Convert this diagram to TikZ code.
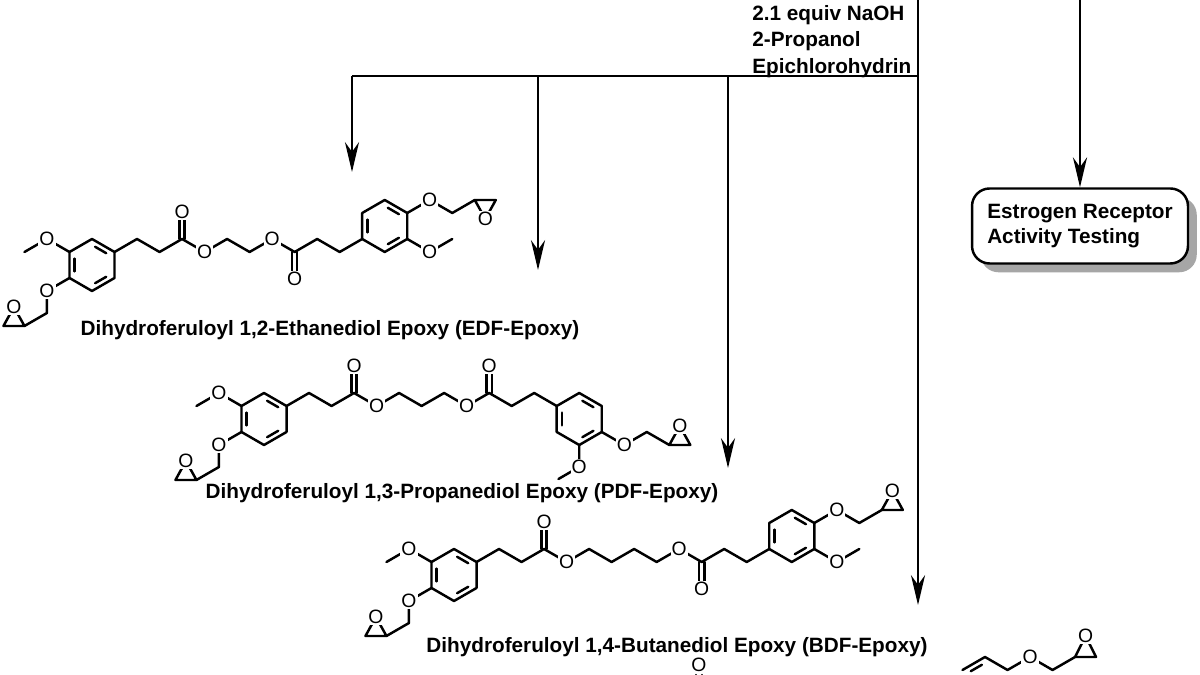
\documentclass[tikz,border=0pt]{standalone}
\usepackage{fontspec}
\setmainfont{Liberation Sans}
\usetikzlibrary{arrows.meta,calc,shadows}
\tikzset{
  bond/.style={line width=1.4pt,line cap=round,line join=round},
  atom/.style={fill=white,inner sep=0.6pt,font=\fontsize{11}{12}\selectfont},
  lbl/.style={font=\bfseries\fontsize{11.8}{14}\selectfont,inner sep=0pt},
  flow/.style={line width=1.3pt},
  arr/.style={line width=1.3pt,-{Stealth[length=17pt,width=8pt]}},
}
\newcommand\benz[1]{%
  \draw[bond,shift={(#1)}] (30:26)--(90:26)--(150:26)--(210:26)--(270:26)--(330:26)--cycle;
  \foreach \a in {30,150,270}{\draw[bond,shift={(#1)}] ($(\a:20)!0.18!(\a+60:20)$) -- ($(\a+60:20)!0.18!(\a:20)$);}}
\newcommand\dbl[2]{%
  \draw[bond] ($(#1)+(-2.6,0)$) -- ++(#2:24);
  \draw[bond] ($(#1)+(2.6,0)$) -- ++(#2:24);
  \node[atom] at ($(#1)+(#2:27)$) {O};}
\newcommand\epox[3]{%
  \draw[bond] (#1) -- ++(#2,0) -- ($(#1)+(0.5*#2,#3)$) -- cycle;
  \node[atom] at ($(#1)+(0.5*#2,#3)$) {O};}
\newcommand\leftpart{%
  \coordinate (L) at (0,0);
  \benz{L}
  \draw[bond] (150:26) -- ++(150:26) coordinate (om) -- ++(210:26);
  \draw[bond] (210:26) -- ++(210:26) coordinate (og) -- ++(270:22) -- ++(210:26) coordinate (ep);
  \epox{ep}{-21}{19}
  \node[atom] at (om) {O};
  \node[atom] at (og) {O};}
\begin{document}
\begin{tikzpicture}[x=0.02cm,y=0.02cm]
\useasboundingbox (0,0) rectangle (1200,675);
\fill[white] (0,0) rectangle (1200,675);
\begin{scope}
\clip (0,0) rectangle (1200,675);

% ---------- EDF ----------
\begin{scope}[shift={(92,410)}]
  \leftpart
  \draw[bond] (30:26) -- ++(30:26) -- ++(-30:26) -- ++(30:26) coordinate (c1)
    -- ++(-30:26) coordinate (o1) -- ++(30:26) -- ++(-30:26) -- ++(30:26) coordinate (o2)
    -- ++(-30:26) coordinate (c2) -- ++(30:26) -- ++(-30:26) -- ++(30:26) coordinate (rv);
  \coordinate (R) at ($(rv)+(30:26)$);
  \benz{R}
  \draw[bond] ($(R)+(30:26)$) -- ++(30:26) coordinate (ro) -- ++(-30:26) -- ++(30:26) coordinate (re);
  \epox{re}{21}{-19}
  \draw[bond] ($(R)+(330:26)$) -- ++(-30:26) coordinate (rm) -- ++(30:26);
  \dbl{c1}{90}\dbl{c2}{270}
  \node[atom] at (o1) {O};\node[atom] at (o2) {O};
  \node[atom] at (ro) {O};\node[atom] at (rm) {O};
\end{scope}
\node[lbl] (nEDF) at (330,345) {Dihydroferuloyl 1,2-Ethanediol Epoxy (EDF-Epoxy)};

% ---------- PDF ----------
\begin{scope}[shift={(264,256)}]
  \leftpart
  \draw[bond] (30:26) -- ++(30:26) -- ++(-30:26) -- ++(30:26) coordinate (c1)
    -- ++(-30:26) coordinate (o1) -- ++(30:26) -- ++(-30:26) -- ++(30:26)
    -- ++(-30:26) coordinate (o2) -- ++(30:26) coordinate (c2) -- ++(-30:26) -- ++(30:26) -- ++(-30:26) coordinate (rv);
  \coordinate (R) at ($(rv)+(-30:26)$);
  \benz{R}
  \draw[bond] ($(R)+(330:26)$) -- ++(-30:26) coordinate (ro) -- ++(30:26) -- ++(-30:26) coordinate (re);
  \epox{re}{21}{19}
  \draw[bond] ($(R)+(270:26)$) -- ++(270:22) coordinate (rm) -- ++(210:24);
  \dbl{c1}{90}\dbl{c2}{90}
  \node[atom] at (o1) {O};\node[atom] at (o2) {O};
  \node[atom] at (ro) {O};\node[atom] at (rm) {O};
\end{scope}
\node[lbl] (nPDF) at (462,182) {Dihydroferuloyl 1,3-Propanediol Epoxy (PDF-Epoxy)};

% ---------- BDF ----------
\begin{scope}[shift={(454,100)}]
  \leftpart
  \draw[bond] (30:26) -- ++(30:26) -- ++(-30:26) -- ++(30:26) coordinate (c1)
    -- ++(-30:26) coordinate (o1) -- ++(30:26) -- ++(-30:26) -- ++(30:26) -- ++(-30:26)
    -- ++(30:26) coordinate (o2) -- ++(-30:26) coordinate (c2) -- ++(30:26) -- ++(-30:26) -- ++(30:26) coordinate (rv);
  \coordinate (R) at ($(rv)+(30:26)$);
  \benz{R}
  \draw[bond] ($(R)+(30:26)$) -- ++(30:26) coordinate (ro) -- ++(-30:26) -- ++(30:26) coordinate (re);
  \epox{re}{21}{19}
  \draw[bond] ($(R)+(330:26)$) -- ++(-30:26) coordinate (rm) -- ++(30:26);
  \dbl{c1}{90}\dbl{c2}{270}
  \node[atom] at (o1) {O};\node[atom] at (o2) {O};
  \node[atom] at (ro) {O};\node[atom] at (rm) {O};
\end{scope}
\node[lbl] (nBDF) at (677,28) {Dihydroferuloyl 1,4-Butanediol Epoxy (BDF-Epoxy)};

% ---------- partial molecules at bottom ----------
\draw[bond] (696,-20) -- (696,0);
\draw[bond] (702,-20) -- (702,0);
\node[atom] at (699,10) {O};
\begin{scope}[shift={(985,-8)}]
  \draw[bond] (150:26) -- (90:26) -- (30:26) -- ++(30:26) coordinate (bo) -- ++(-30:26) -- ++(30:26) coordinate (be);
  \draw[bond] ($(150:20)!0.18!(90:20)$) -- ($(90:20)!0.18!(150:20)$);
  \epox{be}{21}{21}
  \node[atom] at (bo) {O};
\end{scope}

% ---------- flow lines ----------
\coordinate (top1) at (918,680);
\coordinate (top2) at (1080,680);
\coordinate (j) at (918,599);
\coordinate (h1) at (352,599);
\coordinate (h2) at (538,599);
\coordinate (h3) at (728,599);
\coordinate (t1) at (352,503);
\coordinate (t2) at (538,405);
\coordinate (t3) at (728,207);
\coordinate (t4) at (918,70);
\draw[arr] (top1) -- (t4);
\draw[flow] (j) -- (h1);
\draw[arr] (h1) -- (t1);
\draw[arr] (h2) -- (t2);
\draw[arr] (h3) -- (t3);
\node[lbl,align=left,anchor=north west,font=\bfseries\fontsize{11.8}{15}\selectfont] (reag) at (752,670) {2.1 equiv NaOH\\2-Propanol\\Epichlorohydrin};
\end{scope}

\node[draw,line width=1.4pt,rounded corners=10pt,fill=white,
  minimum width=4.32cm,minimum height=1.5cm,inner xsep=0.3cm,align=left,
  drop shadow={shadow xshift=5pt,shadow yshift=-5pt,fill=black!35,opacity=1},
  font=\bfseries\fontsize{11.8}{14.5}\selectfont] (box) at (1080,449) {Estrogen Receptor\\Activity Testing};
\draw[arr] (top2) -- (box.north -| top2);
\end{tikzpicture}
\end{document}
